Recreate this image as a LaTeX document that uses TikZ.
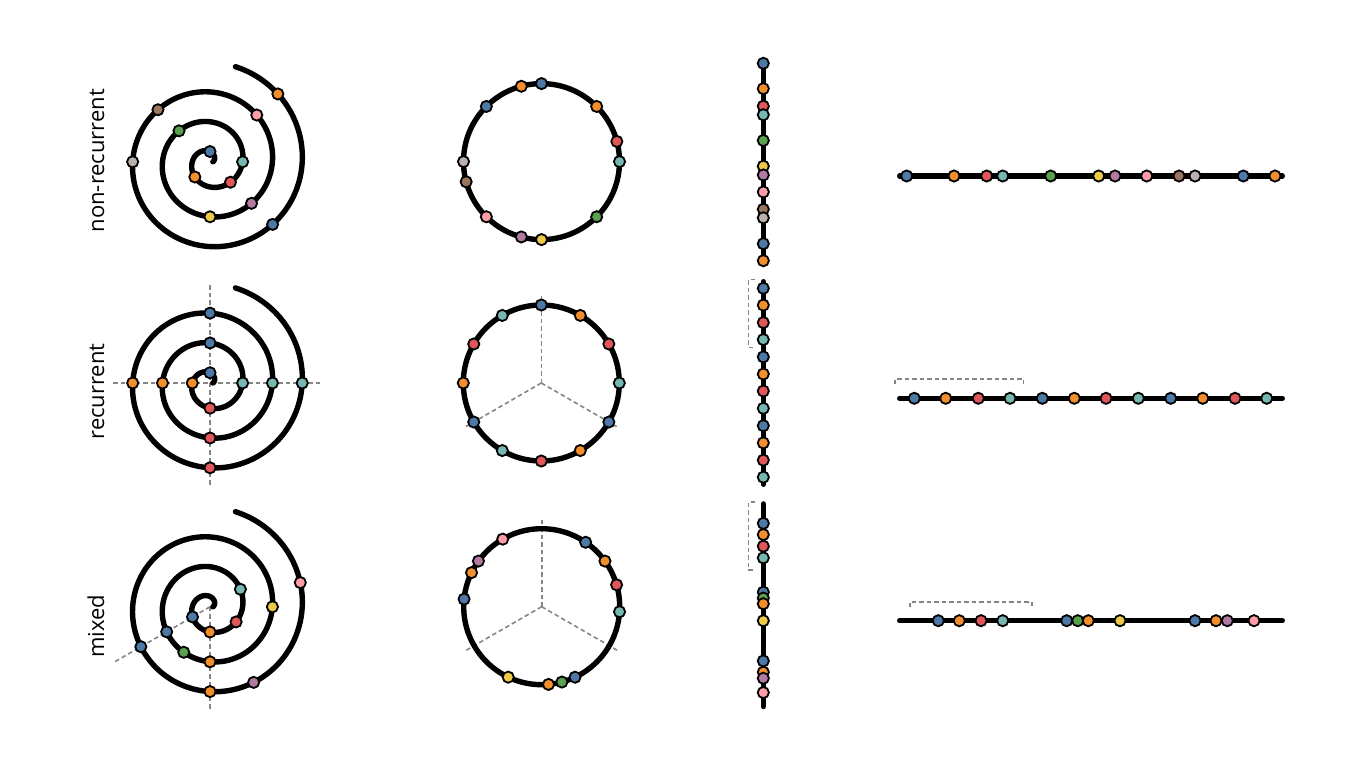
\documentclass[tikz,border=0pt]{standalone}
\usepackage{fontspec}
\setmainfont{Open Sans}
\definecolor{tabblue}{HTML}{4E79A7}
\definecolor{taborange}{HTML}{F28E2B}
\definecolor{tabred}{HTML}{E15759}
\definecolor{tabteal}{HTML}{76B7B2}
\definecolor{tabgreen}{HTML}{59A14F}
\definecolor{tabyellow}{HTML}{EDC948}
\definecolor{tabpurple}{HTML}{B07AA1}
\definecolor{tabpink}{HTML}{FF9DA7}
\definecolor{tabbrown}{HTML}{9C755F}
\definecolor{tabgrey}{HTML}{BAB0AC}
\definecolor{guidegrey}{HTML}{858585}
\tikzset {
  % thick black track: spiral, circle and the unrolled lines
  track/.style = {
    draw = black,
    line width = 5.4pt,
    line cap = round
  },
  % grey dashed helper lines and period brackets
  guide/.style = {
    draw = guidegrey,
    line width = 1.6pt,
    dash pattern = on 4.5pt off 3pt
  },
  % coloured sample on a track
  sample/.style = {
    draw = black,
    line width = 1.8pt,
    fill = #1
  },
  % rotated row title
  row label/.style = {
    rotate = 90,
    anchor = base,
    font = \fontsize{22}{26}\selectfont
  }
}

\begin{document}
\begin{tikzpicture}[x=1pt,y=-1pt]
    \useasboundingbox (0,0) rectangle (1358,768);

    % row 1: non-recurrent
    \node[row label] (lab-nonrec) at (104,160.7) {non-recurrent};
    \draw[track] plot[domain=0:1155, samples=300, smooth, variable=\a, shift={(210,161.8)}] (-\a:{0.0828*(\a+34)});
    \draw[track] (541.5,161.6) circle (78pt);
    \draw[track] (763.3,60.8) -- (763.3,263.6);
    \draw[track] (899.7,176) -- (1282.3,176);
    \foreach \t/\p/\s/\c in {90/90/9.7/tabblue, 225/45/57/taborange, 315/15/89.7/tabred,
        360/0/105.7/tabteal, 495/-45/153.7/tabgreen, 630/-90/201.7/tabyellow,
        675/-105/218/tabpurple, 765/-135/249.7/tabpink, 855/-165/282/tabbrown,
        900/-180/298/tabgrey, 1035/-225/346.3/tabblue, 1125/-255/378/taborange} {
      \filldraw[sample=\c, shift={(210,161.8)}] (-\t:{0.0828*(\t+34)}) circle (5.6pt);
      \filldraw[sample=\c, shift={(541.5,161.6)}] (-\p:78) circle (5.6pt);
      \filldraw[sample=\c] (763.3,{58.1+0.536*\s}) circle (5.6pt);
      \filldraw[sample=\c] ({897+\s},176) circle (5.6pt);
    }

    % row 2: recurrent
    \node[row label] (lab-rec) at (104,391.5) {recurrent};
    \draw[guide] (113,383) -- (323,383);
    \draw[guide] (210,285) -- (210,487);
    \foreach \g/\l in {90/90, 210/87, 330/87}
      \draw[guide] (541.3,383) -- +(-\g:\l);
    \draw[track] plot[domain=0:1155, samples=300, smooth, variable=\a, shift={(210,383)}] (-\a:{0.0828*(\a+34)});
    \draw[track] (541.3,383) circle (78pt);
    \draw[track] (763.3,281.7) -- (763.3,484.3);
    \draw[track] (899.7,398.3) -- (1282.3,398.3);
    \draw[guide] (755,279.3) -- (748.3,279.3) -- (748.3,347.3) -- (755,347.3);
    \draw[guide] (895,384.3) -- (895,379) -- (1023.3,379) -- (1023.3,384.3);
    \foreach \t/\p/\s/\c in {90/90/17.3/tabblue, 180/60/48.7/taborange, 270/30/81.3/tabred,
        360/0/113/tabteal, 450/-30/145.3/tabblue, 540/-60/177.3/taborange,
        630/-90/209/tabred, 720/-120/241.3/tabteal, 810/-150/273.7/tabblue,
        900/-180/305.7/taborange, 990/-210/338/tabred, 1080/-240/369.7/tabteal} {
      \filldraw[sample=\c, shift={(210,383)}] (-\t:{0.0828*(\t+34)}) circle (5.6pt);
      \filldraw[sample=\c, shift={(541.3,383)}] (-\p:78) circle (5.6pt);
      \filldraw[sample=\c] (763.3,{279+0.536*\s}) circle (5.6pt);
      \filldraw[sample=\c] ({897+\s},398.3) circle (5.6pt);
    }

    % row 3: mixed
    \node[row label] (lab-mixed) at (104,626) {mixed};
    \draw[guide] (210,606.8) -- +(-210:111);
    \draw[guide] (210,606.8) -- +(-270:103);
    \foreach \g/\l in {90/90, 210/87, 330/87}
      \draw[guide] (541.7,606.7) -- +(-\g:\l);
    \draw[track] plot[domain=0:1155, samples=300, smooth, variable=\a, shift={(210,606.8)}] (-\a:{0.0828*(\a+34)});
    \draw[track] (541.7,606.7) circle (78pt);
    \draw[track] (763.3,503.9) -- (763.3,706.5);
    \draw[track] (899.7,620.7) -- (1282.3,620.7);
    \draw[guide] (755,501.7) -- (748.3,501.7) -- (748.3,570) -- (755,570);
    \draw[guide] (910,607.3) -- (910,601.7) -- (1031.7,601.7) -- (1031.7,607.3);
    \foreach \t/\p/\s/\c in {210/55.7/41.3/tabblue, 270/35.8/62.3/taborange, 330/16.3/84/tabred,
        390/-3.7/105.7/tabteal, 570/-64.7/169.7/tabblue, 600/-75/180.7/tabgreen,
        630/-85/191.3/taborange, 720/-115.4/223/tabyellow, 930/-185.6/298/tabblue,
        990/-205.9/319/taborange, 1020/-215.8/330.3/tabpurple, 1095/-240/357/tabpink} {
      \filldraw[sample=\c, shift={(210,606.8)}] (-\t:{0.0828*(\t+34)}) circle (5.6pt);
      \filldraw[sample=\c, shift={(541.7,606.7)}] (-\p:78) circle (5.6pt);
      \filldraw[sample=\c] (763.3,{501.2+0.536*\s}) circle (5.6pt);
      \filldraw[sample=\c] ({897+\s},620.7) circle (5.6pt);
    }
\end{tikzpicture}
\end{document}
